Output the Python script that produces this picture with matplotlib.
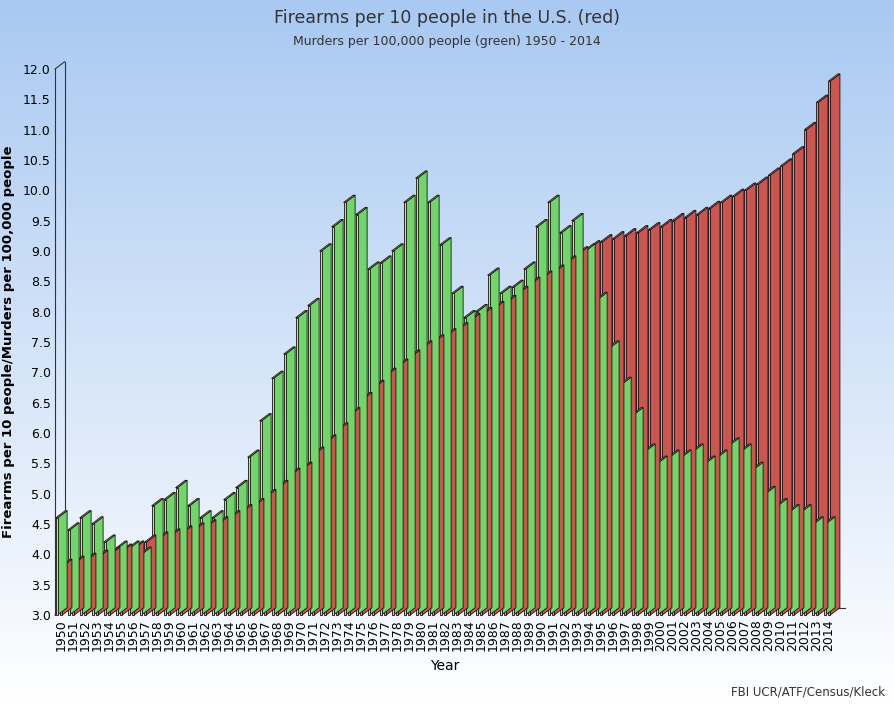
import numpy as np
import matplotlib
matplotlib.use("Agg")
import matplotlib.pyplot as plt
from matplotlib.patches import Polygon

years = list(range(1950, 2015))
murders = [4.6, 4.4, 4.6, 4.5, 4.2, 4.1, 4.1, 4.0, 4.8, 4.9, 5.1, 4.8, 4.6, 4.6,
           4.9, 5.1, 5.6, 6.2, 6.9, 7.3, 7.9, 8.1, 9.0, 9.4, 9.8, 9.6, 8.7, 8.8,
           9.0, 9.8, 10.2, 9.8, 9.1, 8.3, 7.9, 8.0, 8.6, 8.3, 8.4, 8.7, 9.4, 9.8,
           9.3, 9.5, 9.0, 8.2, 7.4, 6.8, 6.3, 5.7, 5.5, 5.6, 5.6, 5.7, 5.5, 5.6,
           5.8, 5.7, 5.4, 5.0, 4.8, 4.7, 4.7, 4.5, 4.5]
firearms = [3.8, 3.85, 3.9, 3.95, 4.0, 4.05, 4.1, 4.2, 4.25, 4.3, 4.35, 4.4, 4.45,
            4.5, 4.6, 4.7, 4.8, 4.95, 5.1, 5.3, 5.4, 5.65, 5.85, 6.05, 6.3, 6.55,
            6.75, 6.95, 7.1, 7.25, 7.4, 7.5, 7.6, 7.7, 7.85, 7.95, 8.05, 8.15, 8.3,
            8.45, 8.55, 8.65, 8.8, 8.95, 9.05, 9.15, 9.2, 9.25, 9.3, 9.35, 9.4, 9.5,
            9.55, 9.6, 9.7, 9.8, 9.9, 10.0, 10.1, 10.25, 10.4, 10.6, 11.0, 11.45, 11.8]

W, H = 894, 706
fig = plt.figure(figsize=(W / 100, H / 100), dpi=100)

# background gradient
bg = fig.add_axes([0, 0, 1, 1])
grad = np.linspace(0, 1, 256).reshape(-1, 1)
cmap = matplotlib.colors.LinearSegmentedColormap.from_list("bg", ["#a9c9f2", "#ffffff"])
bg.imshow(grad, aspect="auto", cmap=cmap, extent=[0, 1, 0, 1], origin="upper")
bg.axis("off")

x0, x1, yb, yt = 55, 835, 615, 69
ax = fig.add_axes([x0 / W, 1 - yb / H, (x1 - x0) / W, (yb - yt) / H])
ax.set_xlim(-0.5, len(years) - 0.5)
ax.set_ylim(3, 12)
ax.patch.set_alpha(0)

dx, dy = 0.8, 0.12  # 3D depth in data units
fw = 0.16           # thin front face width
ec = "#1a1010"


def slab(x, h, face, front, top, zorder):
    b = 3.0
    # side (deep) face
    ax.add_patch(Polygon([(x + fw, b), (x + fw + dx, b + dy), (x + fw + dx, h + dy), (x + fw, h)],
                         closed=True, fc=face, ec=ec, lw=0.6, zorder=zorder, clip_on=False))
    # top face
    ax.add_patch(Polygon([(x, h), (x + fw, h), (x + fw + dx, h + dy), (x + dx, h + dy)],
                         closed=True, fc=top, ec=ec, lw=0.6, zorder=zorder, clip_on=False))
    # thin front face
    ax.add_patch(Polygon([(x, b), (x + fw, b), (x + fw, h), (x, h)], closed=True,
                         fc=front, ec=ec, lw=0.6, zorder=zorder, clip_on=False))


# back wall / floor outlines
ax.plot([-0.5 + dx, -0.5 + dx], [3 + dy, 12 + dy], color="#333333", lw=0.8, clip_on=False)
ax.plot([-0.5, -0.5 + dx], [12, 12 + dy], color="#333333", lw=0.8, clip_on=False)
ax.plot([-0.5, -0.5 + dx], [3, 3 + dy], color="#333333", lw=0.8, clip_on=False)
ax.plot([-0.5 + dx, len(years) - 0.5 + dx], [3 + dy, 3 + dy], color="#333333", lw=0.8,
        clip_on=False)

n = len(years)
for i in range(n):
    z = 2 + (n - i) * 0.01
    slab(i - 0.45, murders[i], "#6fd66a", "#a6ec9a", "#d8f7d0", z + 0.005)
    slab(i - 0.05, firearms[i], "#cc5550", "#e48c86", "#f3c4c0", z)

for s in ["top", "right", "bottom"]:
    ax.spines[s].set_visible(False)
ax.spines["left"].set_color("#333333")
ax.set_yticks(np.arange(3, 12.01, 0.5))
ax.set_yticklabels([f"{v:.1f}" for v in np.arange(3, 12.01, 0.5)], fontsize=9)
ax.set_xticks(range(n))
ax.set_xticklabels([str(y) for y in years], rotation=90, fontsize=9)
ax.tick_params(length=0, pad=3)
ax.set_xlabel("Year", fontsize=10, labelpad=6)
ax.set_ylabel("Firearms per 10 people/Murders per 100,000 people", fontsize=9.5,
              fontweight="bold", labelpad=6)

fig.text(0.5, 1 - 18 / H, "Firearms per 10 people in the U.S. (red)", ha="center",
         va="center", fontsize=12.5, color="#333333")
fig.text(0.5, 1 - 41 / H, "Murders per 100,000 people (green) 1950 - 2014", ha="center",
         va="center", fontsize=9, color="#333333")
fig.text(885 / W, 1 - 692 / H, "FBI UCR/ATF/Census/Kleck", ha="right", va="center",
         fontsize=8.5, color="#333333")

fig.savefig("out.png", dpi=100)
